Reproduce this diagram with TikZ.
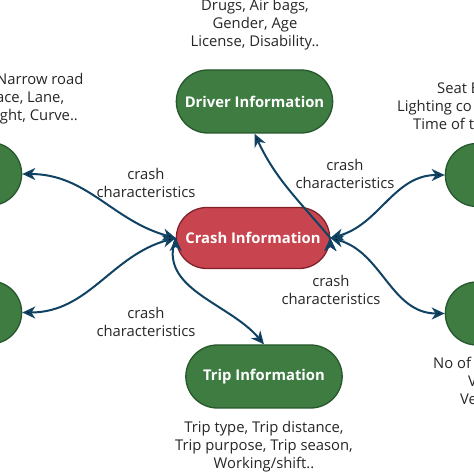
\documentclass[tikz,border=0pt]{standalone}
\usepackage{fontspec}
\setmainfont{Open Sans}
\usetikzlibrary{positioning,shapes.misc,arrows.meta}

\definecolor{infogreen}{RGB}{62,124,66}
\definecolor{infogreenline}{RGB}{38,88,44}
\definecolor{crashred}{RGB}{200,68,78}
\definecolor{crashredline}{RGB}{128,34,42}
\definecolor{linkblue}{RGB}{16,66,100}
\definecolor{labelgray}{RGB}{38,38,38}

\begin{document}
\begin{tikzpicture}[
		x=1pt,y=1pt,
		>={Stealth[length=13pt,width=12pt,inset=4pt]},
		infonode/.style={rounded rectangle,draw=infogreenline,fill=infogreen,line width=1.3pt,
			minimum width=163pt,minimum height=63pt,text=white,
			font=\bfseries\fontsize{14.8}{18}\selectfont},
		crashnode/.style={infonode,draw=crashredline,fill=crashred,minimum width=160pt,minimum height=61pt},
		factors/.style={align=center,inner sep=0pt,text=labelgray,font=\fontsize{14.8}{18}\selectfont},
		fragment/.style={anchor=west,inner sep=0pt,text height=10pt,text depth=3pt,
			text=labelgray,font=\fontsize{14.8}{18}\selectfont},
		link/.style={draw=linkblue,line width=2pt}
		]
		\useasboundingbox (0,0) rectangle (474,474);
		\clip (0,0) rectangle (474,474);
		\node[crashnode] (crash) at (253,236) {Crash Information};
		\node[infonode] (driver) at (254.5,372.5) {Driver Information};
		\node[infonode] (trip) at (264,97.5) {Trip Information};
		\node[infonode] (road) at (-56.5,300) {};
		\node[infonode] (lowerleft) at (-56.5,161.5) {};
		\node[infonode] (environment) at (523.5,299) {};
		\node[infonode] (vehicle) at (523.5,160.5) {};
		% connectors
		\path [link,->]
		(crash.east) edge[out=130,in=-65] (driver.south)
		(crash.west) edge[out=-110,in=130] (trip.north);
		\path [link,<->]
		(crash.west) edge[out=165,in=0] (road.east)
		(crash.west) edge[out=195,in=0] (lowerleft.east)
		(crash.east) edge[out=15,in=180] (environment.west)
		(crash.east) edge[out=-15,in=180] (vehicle.west);
		% connector labels
		\node[factors] (roadlabel) at (146,291) {crash\\characteristics};
		\node[factors] (lowerleftlabel) at (146,152) {crash\\characteristics};
		\node[factors] (environmentlabel) at (345,300) {crash\\characteristics};
		\node[factors] (vehiclelabel) at (331,184) {crash\\characteristics};
		% factor lists
		\node[factors] (driverfactors) at (255,449) {Drugs, Air bags,\\Gender, Age\\License, Disability..};
		\node[factors] (tripfactors) at (264,27) {Trip type, Trip distance,\\Trip purpose, Trip season,\\Working/shift..};
		\node[factors,align=left,anchor=west] (roadfactors) at (-4,375) {Narrow road\\ace, Lane,\\ight, Curve..};
		\node[fragment] (environmentone) at (437,384) {Seat B};
		\node[fragment] (environmenttwo) at (397,366) {Lighting co};
		\node[fragment] (environmentthree) at (413,348) {Time of t};
		\node[fragment] (vehicleone) at (433,109) {No of};
		\node[fragment] (vehicletwo) at (468,91) {V};
		\node[fragment] (vehiclethree) at (460,73) {Ve};
	\end{tikzpicture}
\end{document}
